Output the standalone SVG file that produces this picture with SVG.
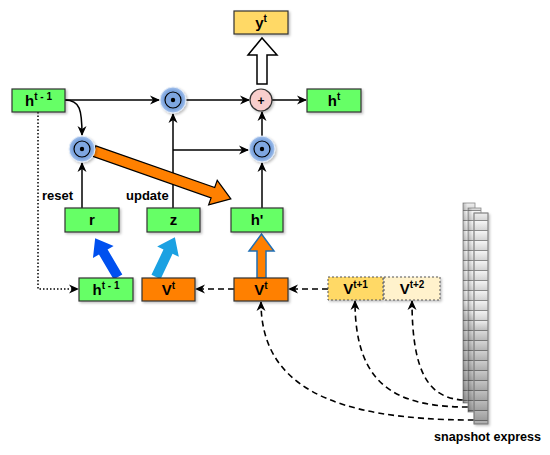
<svg xmlns="http://www.w3.org/2000/svg" width="550" height="455" viewBox="0 0 550 455">
<defs>
<style>
.box{stroke:#333;stroke-width:1.2;filter:url(#sh)}
.g{fill:#66ff66}
.o{fill:#ff8000}
.t{font-family:"Liberation Sans",Arial,sans-serif;font-weight:bold;font-size:15px;fill:#000;text-anchor:middle}
.sup{font-size:10px}
.lbl{font-family:"Liberation Sans",Arial,sans-serif;font-weight:bold;font-size:13px;fill:#000}
.ln{fill:none;stroke:#000;stroke-width:1.5}
.ds{fill:none;stroke:#000;stroke-width:1.6;stroke-dasharray:6 4}
.dot{fill:none;stroke:#000;stroke-width:1.5;stroke-dasharray:1.5 2}
.col{fill:url(#cells);stroke:#888;stroke-width:0.8}
.shade{fill:url(#cg)}
</style>
<filter id="sh" x="-20%" y="-20%" width="150%" height="160%">
<feDropShadow dx="1.5" dy="1.5" stdDeviation="1" flood-color="#000" flood-opacity="0.25"/>
</filter>
<marker id="a" viewBox="0 0 10 10" markerWidth="10" markerHeight="10" refX="9" refY="5" orient="auto" markerUnits="userSpaceOnUse">
<path d="M0,0.5 L10,5 L0,9.5 L3,5 z" fill="#000"/>
</marker>
<linearGradient id="cg" x1="0" y1="0" x2="0" y2="1">
<stop offset="0" stop-color="#000" stop-opacity="0"/>
<stop offset="0.5" stop-color="#000" stop-opacity="0.02"/>
<stop offset="0.56" stop-color="#000" stop-opacity="0.12"/>
<stop offset="1" stop-color="#000" stop-opacity="0.28"/>
</linearGradient>
<linearGradient id="cellg" x1="0" y1="0" x2="0" y2="1">
<stop offset="0" stop-color="#fafafa"/>
<stop offset="1" stop-color="#d6d6d6"/>
</linearGradient>
<linearGradient id="side" x1="0" y1="0" x2="1" y2="0">
<stop offset="0" stop-color="#000" stop-opacity="0.2"/>
<stop offset="0.35" stop-color="#000" stop-opacity="0"/>
</linearGradient>
<pattern id="cells" width="30" height="10" patternUnits="userSpaceOnUse">
<rect x="0" y="0" width="30" height="10" fill="url(#cellg)"/>
<line x1="0" y1="0.5" x2="30" y2="0.5" stroke="#8a8a8a" stroke-width="1"/>
</pattern>
<radialGradient id="cb" cx="0.5" cy="0.5" r="0.5">
<stop offset="0.75" stop-color="#7ea6e0"/>
<stop offset="1" stop-color="#a9c4ec"/>
</radialGradient>
</defs>
<rect width="550" height="455" fill="#fff"/>

<g id="connectors">
<path class="ln" d="M65,100 L159,100" marker-end="url(#a)"/>
<path class="ln" d="M65,100 C80,100 82,110 82,135" marker-end="url(#a)"/>
<path class="ln" d="M186,100 L249,100" marker-end="url(#a)"/>
<path class="ln" d="M272,100 L306,100" marker-end="url(#a)"/>
<path class="ln" d="M82,208 L82,163" marker-end="url(#a)"/>
<path class="ln" d="M173,208 L173,114" marker-end="url(#a)"/>
<path class="ln" d="M173,150 L248,150" marker-end="url(#a)"/>
<path class="ln" d="M262,136 L262,112" marker-end="url(#a)"/>
<path class="ln" d="M262,208 L262,163" marker-end="url(#a)"/>
<path class="dot" d="M38,112 L38,289 L78,289" marker-end="url(#a)"/>
<path class="ds" d="M234,289 L196,289" marker-end="url(#a)"/>
<path class="ds" d="M328,289 L289,289" marker-end="url(#a)"/>
<path class="ds" d="M474,420 C330,420 261,385 261,302" marker-end="url(#a)"/>
<path class="ds" d="M468,407 C395,407 355,385 355,301" marker-end="url(#a)"/>
<path class="ds" d="M463,400 C430,398 412,375 412,301" marker-end="url(#a)"/>
</g>

<g id="arrows">
<polygon points="257,84 267,84 267,55 277,55 262,38 248,55 257,55" fill="#fff" stroke="#000" stroke-width="1.5"/>
<polygon transform="translate(118,277) rotate(-120.5)" points="0,-5 29,-5 29,-12 45,0 29,12 29,5 0,5" fill="#0050ef"/>
<polygon transform="translate(156,277) rotate(-64.6)" points="0,-5 28,-5 28,-12 44,0 28,12 28,5 0,5" fill="#1ba1e2"/>
<polygon points="257,278 266,278 266,251 274,251 261.5,234 249,251 257,251" fill="#ff8000" stroke="#1f6fb5" stroke-width="1.5"/>
<polygon transform="translate(94,151) rotate(19.3)" points="0,-5.5 126,-5.5 126,-13 145,0 126,13 126,5.5 0,5.5" fill="#ff8000" stroke="#000" stroke-width="1.2"/>
</g>

<g id="c_left"><circle cx="82" cy="149" r="13" fill="url(#cb)" stroke="#e3ecf8" stroke-width="1" filter="url(#sh)"/><circle cx="82" cy="149" r="8" fill="none" stroke="#000" stroke-width="1.2"/><circle cx="82" cy="149" r="2.2" fill="#000"/></g>
<g id="c_top"><circle cx="173" cy="100" r="13" fill="url(#cb)" stroke="#e3ecf8" stroke-width="1" filter="url(#sh)"/><circle cx="173" cy="100" r="8" fill="none" stroke="#000" stroke-width="1.2"/><circle cx="173" cy="100" r="2.2" fill="#000"/></g>
<g id="c_right"><circle cx="262" cy="149" r="13" fill="url(#cb)" stroke="#e3ecf8" stroke-width="1" filter="url(#sh)"/><circle cx="262" cy="149" r="8" fill="none" stroke="#000" stroke-width="1.2"/><circle cx="262" cy="149" r="2.2" fill="#000"/></g>
<g id="plus"><circle cx="261" cy="100" r="11" fill="#f8cecc" stroke="#333" stroke-width="1.2" filter="url(#sh)"/><text class="t" x="261" y="104.5" style="font-size:12px">+</text></g>

<g id="y_t"><rect class="box" x="234" y="11" width="54" height="23" fill="#ffd966"/><text class="t" x="261" y="28">y<tspan class="sup" dy="-6">t</tspan></text></g>
<g id="h_tm1_top"><rect class="box g" x="12" y="89" width="53" height="23"/><text class="t" x="38.5" y="106">h<tspan class="sup" dy="-6">t - 1</tspan></text></g>
<g id="h_t"><rect class="box g" x="307" y="89" width="54" height="23"/><text class="t" x="334" y="106">h<tspan class="sup" dy="-6">t</tspan></text></g>
<g id="r"><rect class="box g" x="65" y="208" width="54" height="24"/><text class="t" x="92" y="225">r</text></g>
<g id="z"><rect class="box g" x="147" y="208" width="53" height="24"/><text class="t" x="173.5" y="225">z</text></g>
<g id="h_prime"><rect class="box g" x="231" y="208" width="52" height="24"/><text class="t" x="257" y="225">h'</text></g>
<g id="h_tm1_bot"><rect class="box g" x="79" y="278" width="54" height="23"/><text class="t" x="106" y="295">h<tspan class="sup" dy="-6">t - 1</tspan></text></g>
<g id="v_t_left"><rect class="box o" x="142" y="278" width="53" height="23"/><text class="t" x="168.5" y="295">V<tspan class="sup" dy="-6">t</tspan></text></g>
<g id="v_t_right"><rect class="box o" x="234" y="278" width="54" height="23"/><text class="t" x="261" y="295">V<tspan class="sup" dy="-6">t</tspan></text></g>
<g id="v_t1"><rect x="328" y="277" width="55" height="23" fill="#ffd966" stroke="#555" stroke-width="1" stroke-dasharray="2 2" filter="url(#sh)"/><text class="t" x="355.5" y="294">V<tspan class="sup" dy="-6">t+1</tspan></text></g>
<g id="v_t2"><rect x="384" y="277" width="56" height="23" fill="#fff2cc" stroke="#555" stroke-width="1" stroke-dasharray="2 2" filter="url(#sh)"/><text class="t" x="412" y="294">V<tspan class="sup" dy="-6">t+2</tspan></text></g>

<text class="lbl" x="42" y="200">reset</text>
<text class="lbl" x="126" y="200">update</text>

<g id="snapshot">
<rect class="col" x="463" y="203" width="12" height="200"/><rect class="shade" x="463" y="203" width="12" height="200"/><rect x="463" y="203" width="12" height="200" fill="url(#side)"/>
<rect class="col" x="468" y="208" width="13" height="204"/><rect class="shade" x="468" y="208" width="13" height="204"/><rect x="468" y="208" width="13" height="204" fill="url(#side)"/>
<rect class="col" x="474" y="213" width="14" height="211" filter="url(#sh)"/><rect class="shade" x="474" y="213" width="14" height="211"/><rect x="474" y="213" width="14" height="211" fill="none" stroke="#888" stroke-width="0.8"/>
<text class="lbl" x="434" y="441" style="font-size:12.6px">snapshot express</text>
</g>
</svg>
